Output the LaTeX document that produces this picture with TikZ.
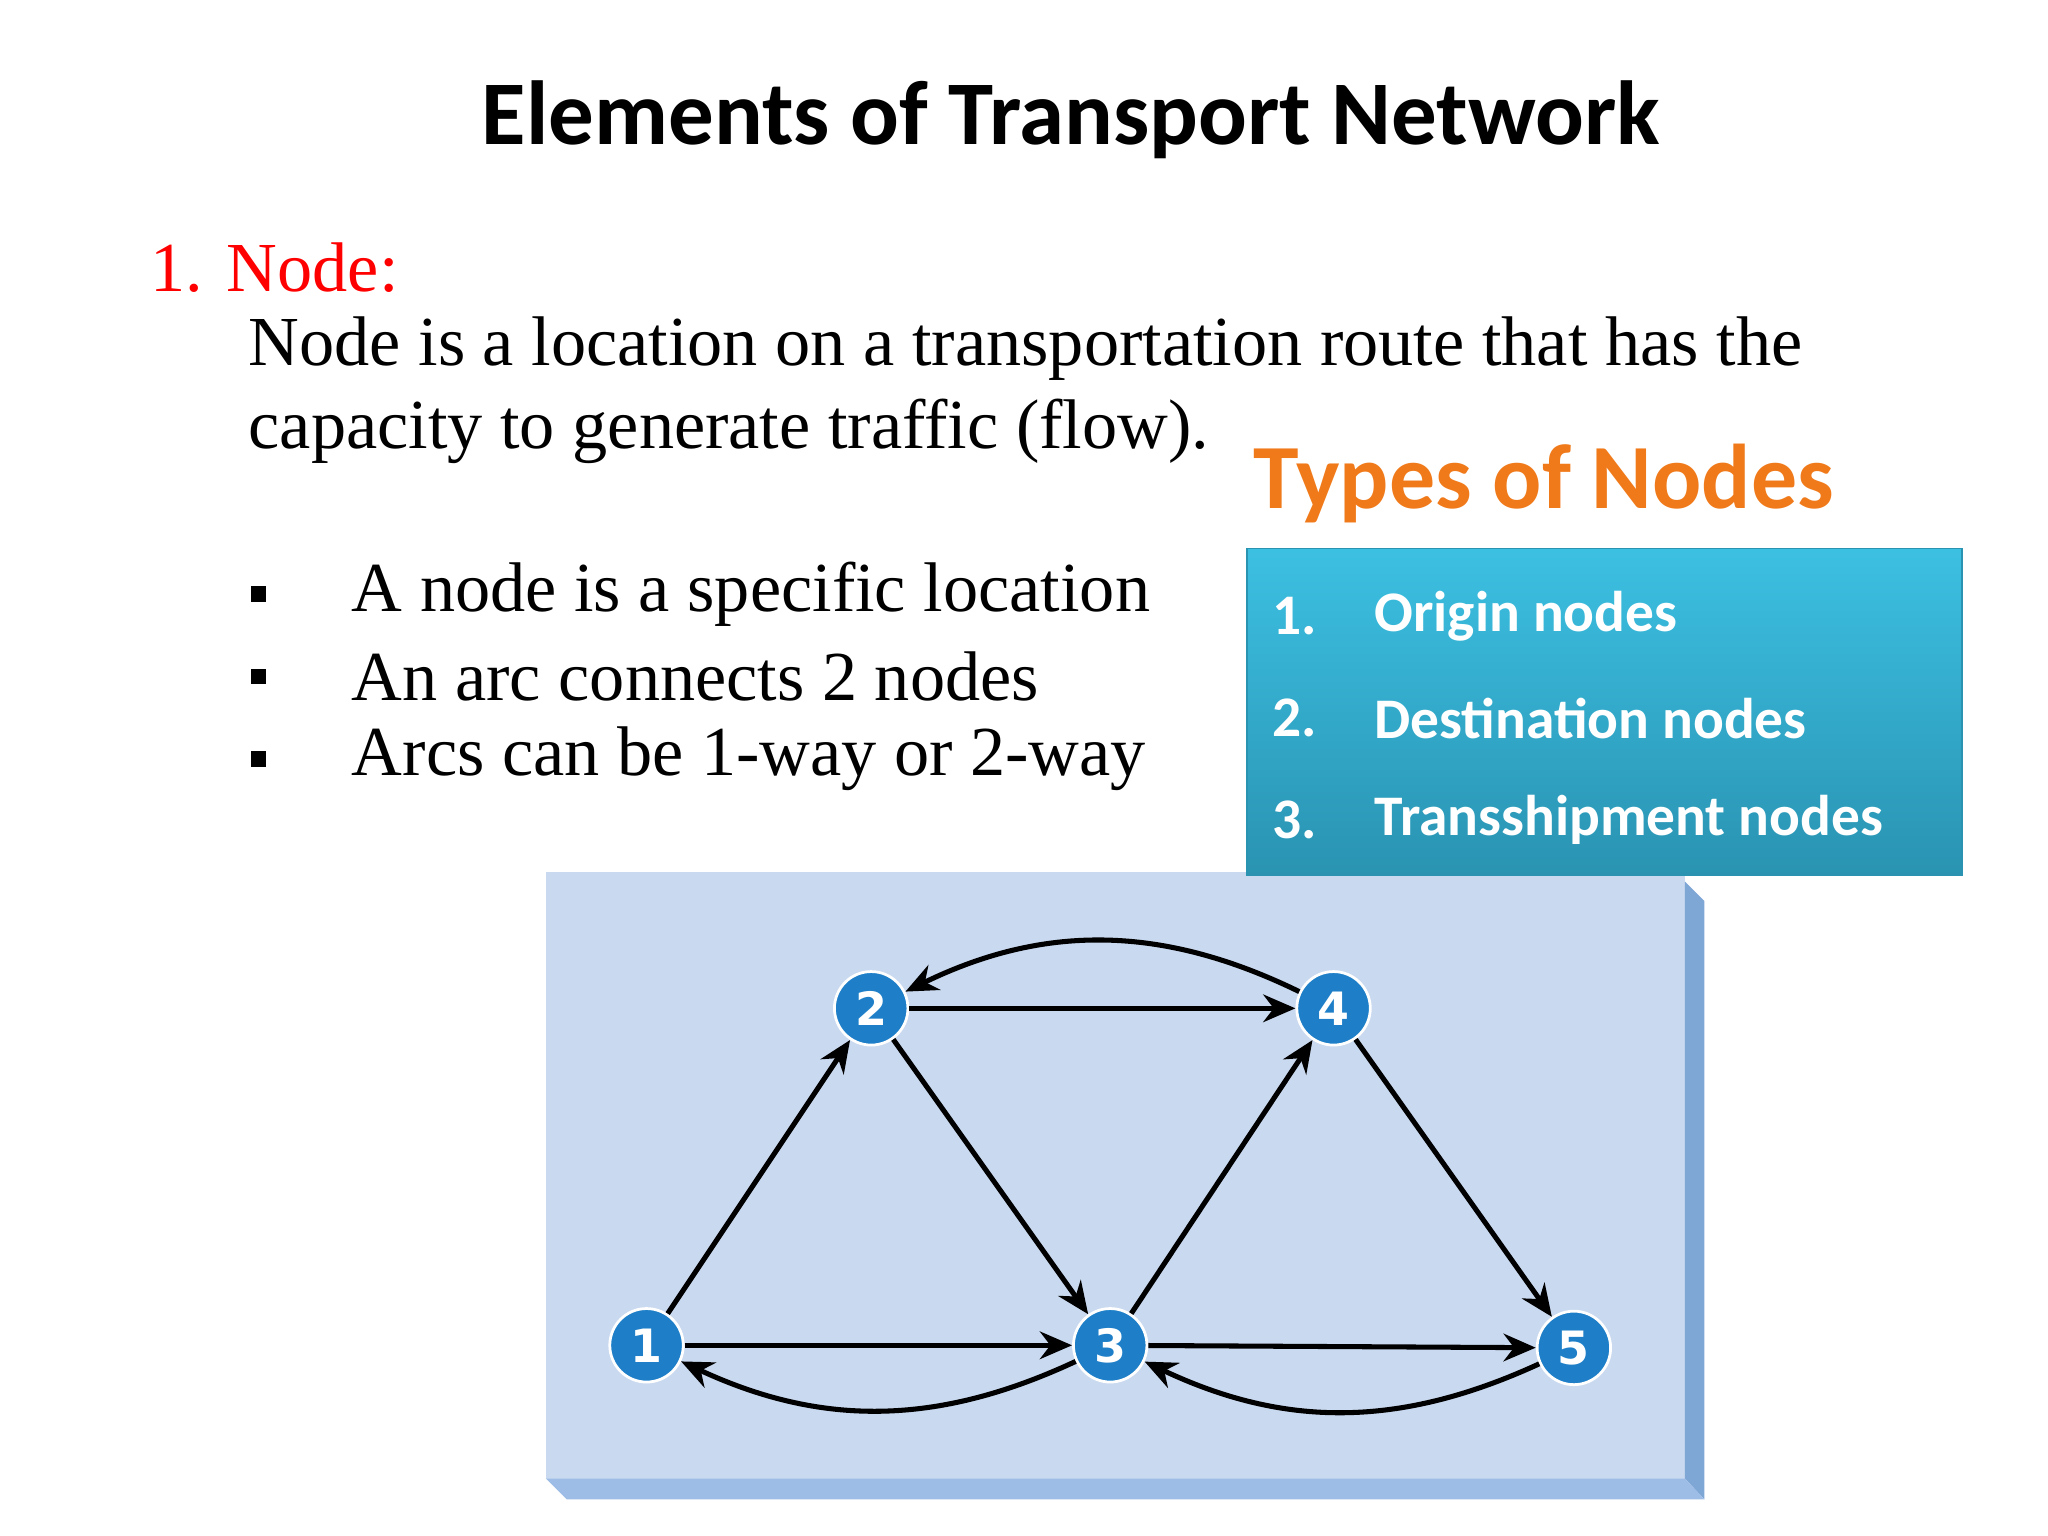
\documentclass[tikz,border=0pt]{standalone}
\usepackage{fontspec}
\setmainfont{Liberation Serif}
\newfontfamily\calfont{Carlito}
\newfontfamily\djfont{DejaVu Sans}
\usetikzlibrary{arrows.meta}
\definecolor{plat}{HTML}{C9D9EF}
\definecolor{platR}{HTML}{7FA7D6}
\definecolor{platB}{HTML}{9DBDE6}
\definecolor{nodeblue}{HTML}{1E7FC8}
\definecolor{boxtop}{HTML}{3CC0E2}
\definecolor{boxbot}{HTML}{2A93B2}
\definecolor{orng}{HTML}{F07A1A}
\tikzset{
 nd/.style={circle,fill=nodeblue,draw=white,line width=0.6pt,minimum size=16pt,inner sep=0pt,text=white,font=\djfont\bfseries\fontsize{10}{10}\selectfont},
 arc/.style={-{Stealth[length=7pt,width=6pt]},line width=1.1pt},
 body/.style={anchor=west,font=\fontsize{15.3}{17}\selectfont},
 lst/.style={anchor=west,text=white,font=\calfont\bfseries\fontsize{12.5}{14}\selectfont}
}
\begin{document}
\begin{tikzpicture}[x=0.01cm,y=-0.01cm]
\useasboundingbox (0,0) rectangle (1568,1176);
\fill[white] (0,0) rectangle (1568,1176);
\node[font=\calfont\bfseries\fontsize{19.8}{21}\selectfont] (title) at (820,92) {Elements of Transport Network};
\node[body,text=red] (h) at (103,205) {1. Node:};
\node[body] (p1) at (178,267) {Node is a location on a transportation route that has the};
\node[body] (p2) at (178,330) {capacity to generate traffic (flow).};
\foreach \y/\t [count=\i] in {455/A node is a specific location,518/An arc connects 2 nodes,581/Arcs can be 1-way or 2-way}{
 \fill (192,\y-6) rectangle (204,\y+6);
 \node[body] (b\i) at (257,\y) {\t};
}
\node[text=orng,font=\calfont\bfseries\fontsize{20}{22}\selectfont] (types) at (1182,370) {Types of Nodes};
\fill[plat] (418,668) rectangle (1290,1132);
\fill[platR] (1290,675) -- (1305,690) -- (1305,1148) -- (1290,1132) -- cycle;
\fill[platB] (418,1132) -- (1290,1132) -- (1305,1148) -- (434,1148) -- cycle;
\shade[top color=boxtop,bottom color=boxbot,draw=boxbot] (955,420) rectangle (1502,670);
\foreach \y/\t [count=\i] in {472/Origin nodes,550/Destination nodes,628/Transshipment nodes}{
 \node[lst] (n\i) at (962,\y) {\i.};
 \node[lst] (t\i) at (1040,\y) {\t};
}
\node[nd] (1) at (495,1030) {1};
\node[nd] (2) at (667,772) {2};
\node[nd] (3) at (850,1030) {3};
\node[nd] (4) at (1021,772) {4};
\node[nd] (5) at (1205,1032) {5};
\draw[arc] (2) -- (4);
\draw[arc] (4) to[bend right=26] (2);
\draw[arc] (1) -- (2);
\draw[arc] (2) -- (3);
\draw[arc] (3) -- (4);
\draw[arc] (4) -- (5);
\draw[arc] (1) -- (3);
\draw[arc] (3) -- (5);
\draw[arc] (3) to[bend left=25] (1);
\draw[arc] (5) to[bend left=25] (3);
\end{tikzpicture}
\end{document}
